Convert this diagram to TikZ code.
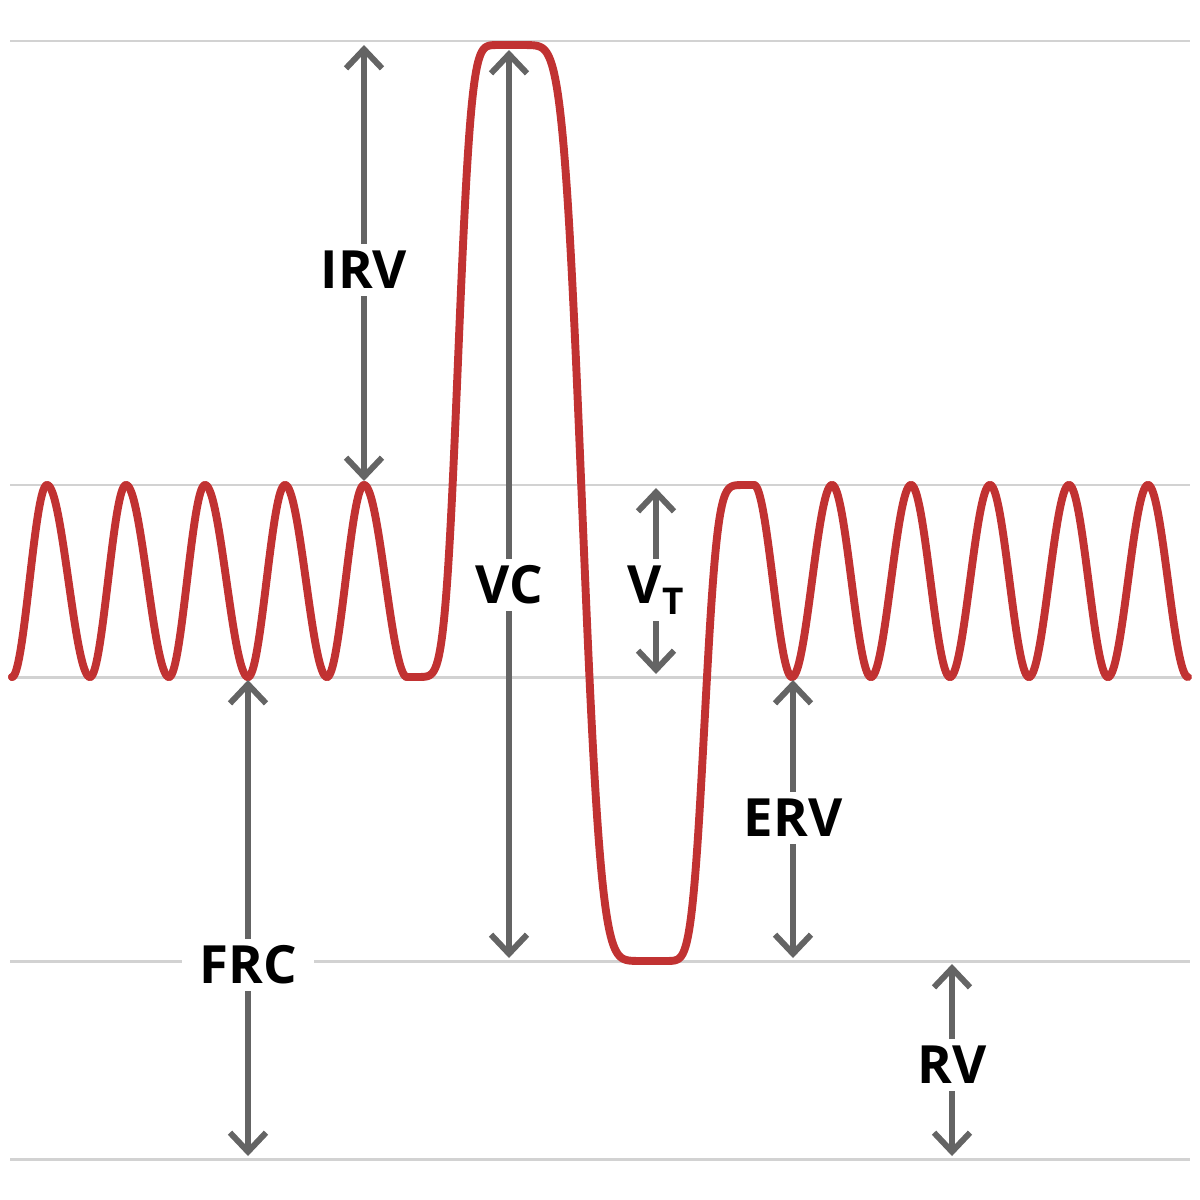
\documentclass[tikz,border=0pt]{standalone}
\usepackage{fontspec}
\setmainfont{Open Sans}
\usetikzlibrary{arrows.meta}
\definecolor{wred}{RGB}{193,50,50}
\definecolor{agray}{RGB}{100,100,100}
\definecolor{lgray}{RGB}{210,210,210}
\begin{document}
\begin{tikzpicture}[x=0.02cm,y=-0.02cm,
  guide/.style={lgray,line width=1.7pt},
  meas/.style={agray,line width=3.4pt,{Straight Barb[length=0.38cm,width=0.72cm]}-{Straight Barb[length=0.38cm,width=0.72cm]}},
  lab/.style={fill=white,font=\fontsize{30}{32}\selectfont\bfseries,inner sep=4pt},
  wave/.style={wred,line width=4.5pt,line cap=round}]
\useasboundingbox (0,0) rectangle (1200,1200);
\foreach \y in {41,485,677,961,1159} \draw[guide] (10,\y) -- (1190,\y);
% small waves
\def\ptsA{12/677,47/485,90/677,126/485,169/677,205/485,248/677,285/485,327/677,364/485,407/677}
\foreach \xx/\yy [remember=\xx as \px (initially 12), remember=\yy as \py (initially 677)] in \ptsA {
  \draw[wave] plot[domain=0:1,samples=40,variable=\t] ({\px+(\xx-\px)*\t},{\py+(\yy-\py)*(1-cos(180*\t))/2});
}
\def\ptsB{754/485,792/677,832/485,871/677,911/485,950/677,990/485,1029/677,1069/485,1108/677,1148/485,1188/677}
\foreach \xx/\yy [remember=\xx as \px (initially 754), remember=\yy as \py (initially 485)] in \ptsB {
  \draw[wave] plot[domain=0:1,samples=40,variable=\t] ({\px+(\xx-\px)*\t},{\py+(\yy-\py)*(1-cos(180*\t))/2});
}
% big breath
\foreach \ax/\ay/\bx/\by in {407/677/509/45, 509/45/655/961, 655/961/754/485} {
  \draw[wave] plot[domain=0:1,samples=150,variable=\t] ({\ax+(\bx-\ax)*\t},{\ay+(\by-\ay)*(0.5-0.5*sin(90*sin(90*cos(180*\t))))});
}
% measurements
\coordinate (irvT) at (364,45); \coordinate (irvB) at (364,481);
\draw[meas] (irvT) -- (irvB); \node[lab] (irv) at (364,270) {IRV};
\coordinate (vcT) at (509,50); \coordinate (vcB) at (509,958);
\draw[meas] (vcT) -- (vcB); \node[lab] (vc) at (509,585) {VC};
\coordinate (vtT) at (656,488); \coordinate (vtB) at (656,674);
\draw[meas] (vtT) -- (vtB); \node[lab] (vt) at (656,590) {V\textsubscript{T}};
\coordinate (frcT) at (248,680); \coordinate (frcB) at (248,1156);
\draw[meas] (frcT) -- (frcB); \node[lab,inner xsep=10pt] (frc) at (248,965) {FRC};
\coordinate (ervT) at (793,680); \coordinate (ervB) at (793,958);
\draw[meas] (ervT) -- (ervB); \node[lab] (erv) at (793,818) {ERV};
\coordinate (rvT) at (952,964); \coordinate (rvB) at (952,1156);
\draw[meas] (rvT) -- (rvB); \node[lab] (rv) at (952,1065) {RV};
\end{tikzpicture}
\end{document}
